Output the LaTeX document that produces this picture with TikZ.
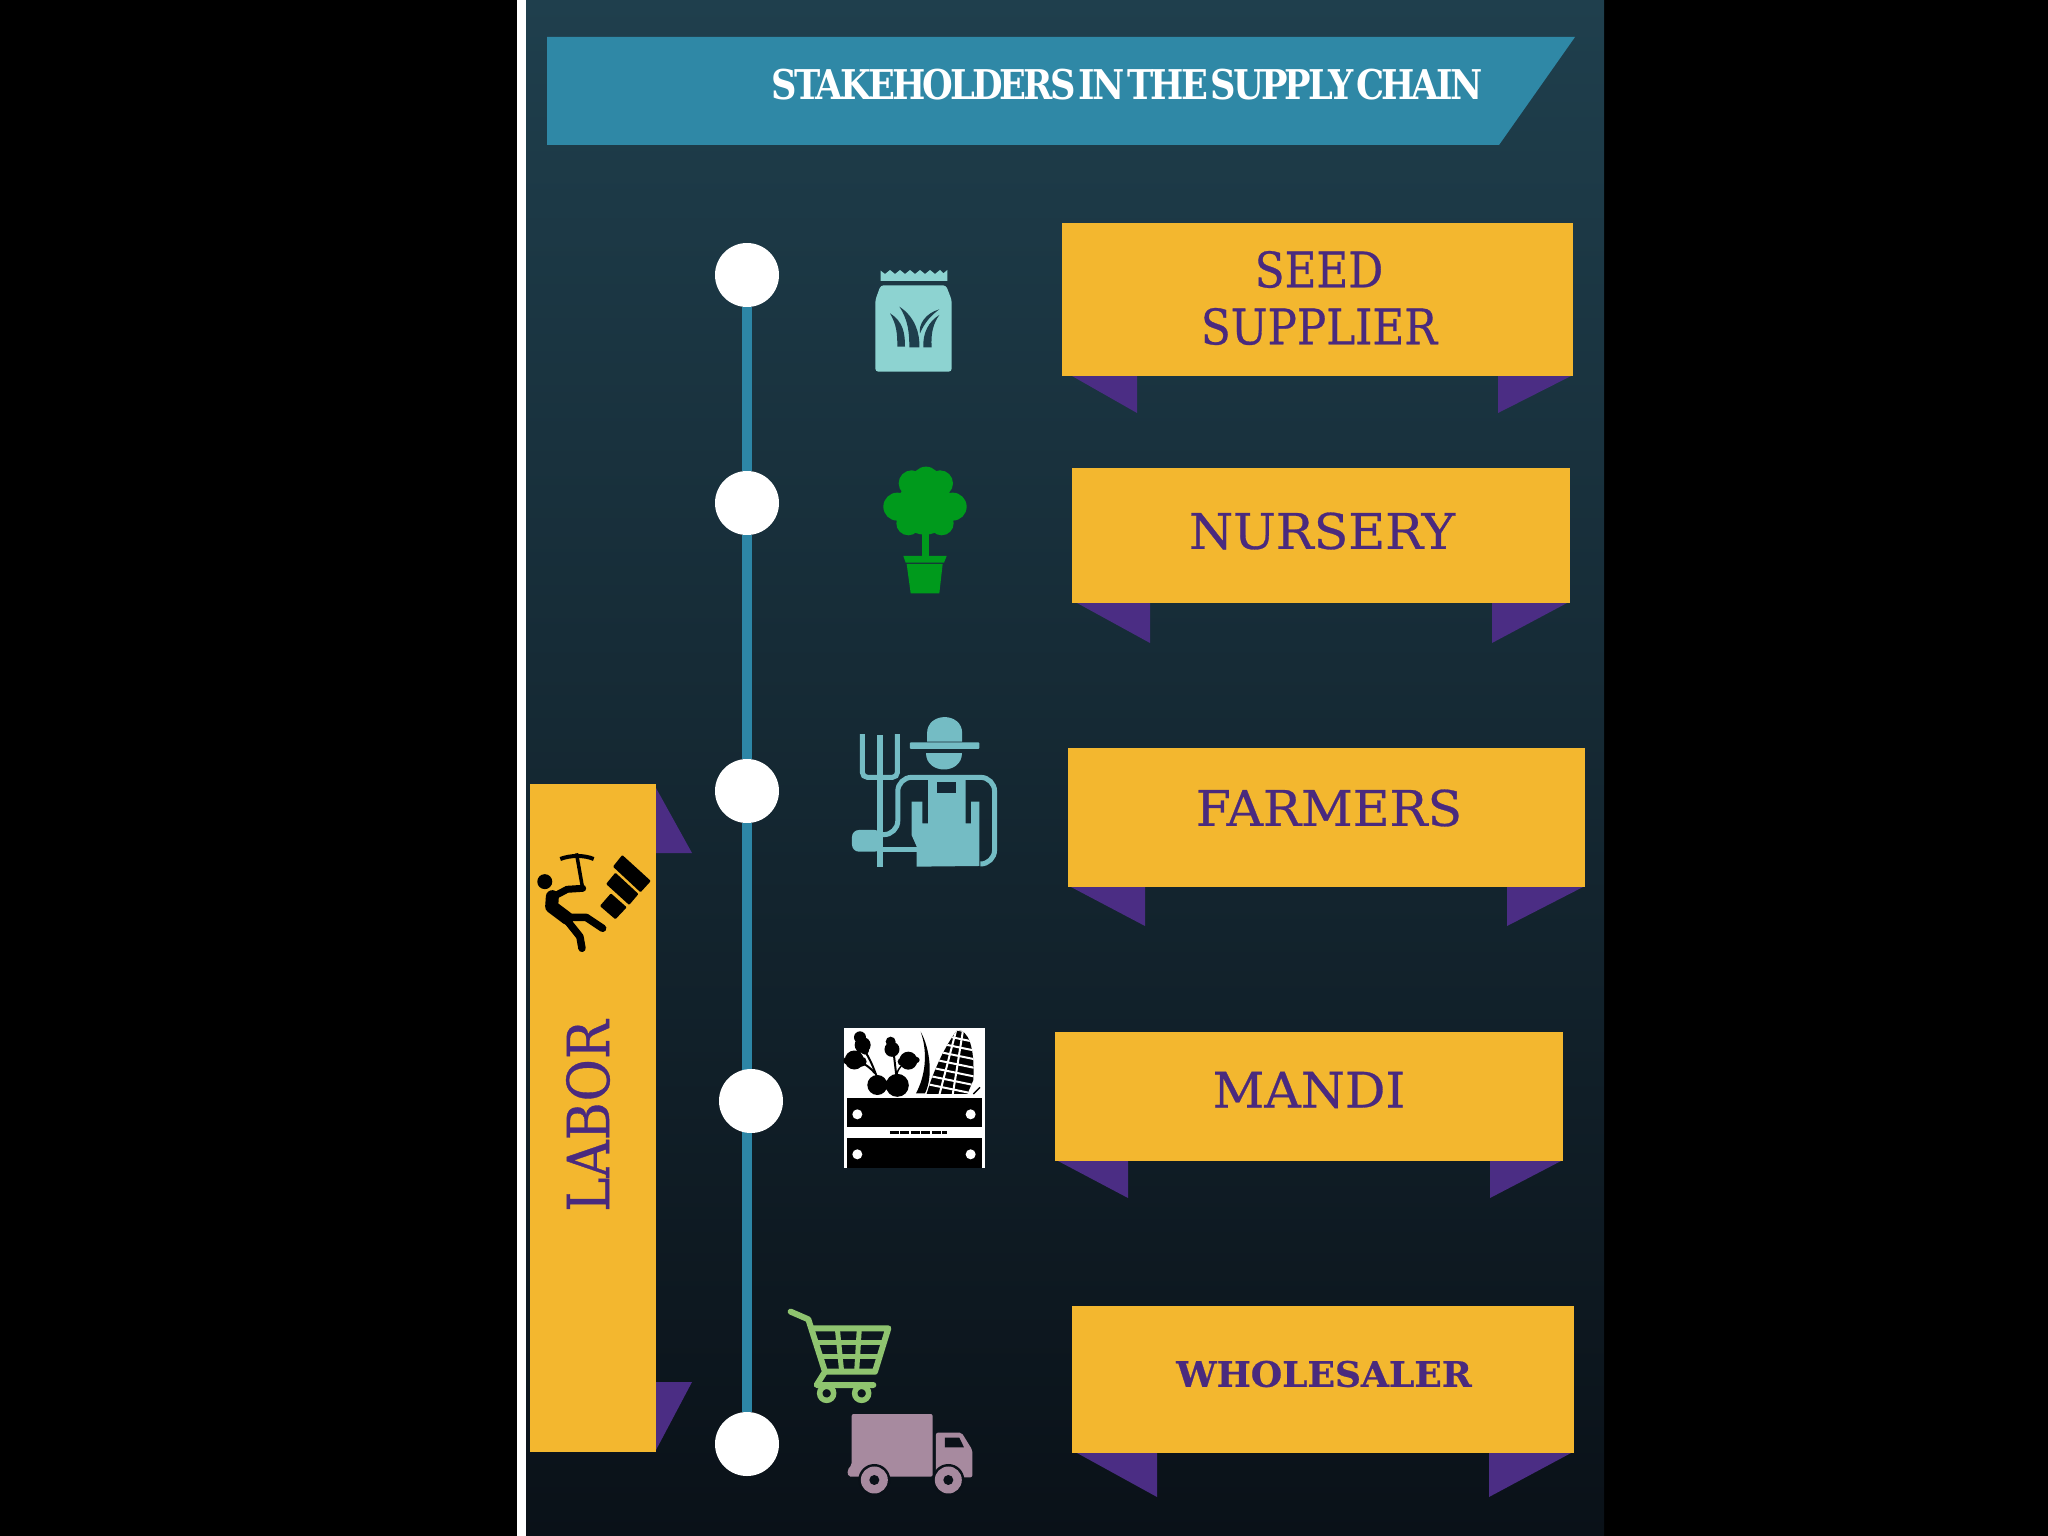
\documentclass[tikz,border=0pt]{standalone}
\usepackage{fontspec}
\usetikzlibrary{calc}
\newfontfamily\slabfont[FakeStretch=1.03,FakeBold=0.6]{DejaVu Serif}
\newfontfamily\slabnarrow[FakeStretch=0.89,FakeBold=0.6]{DejaVu Serif}
\newfontfamily\titlefont[FakeStretch=0.86,LetterSpace=-7,WordSpace=0.3]{DejaVu Serif}
\definecolor{ribbonyellow}{HTML}{F3B72F}
\definecolor{tailpurple}{HTML}{4B2D84}
\definecolor{textpurple}{HTML}{4A2A7E}
\definecolor{bannerblue}{HTML}{2F88A6}
\definecolor{linkblue}{HTML}{2D86A6}
\definecolor{bagteal}{HTML}{8DD3D1}
\definecolor{farmerteal}{HTML}{74BCC4}
\definecolor{treegreen}{HTML}{009A1C}
\definecolor{cartgreen}{HTML}{8FC46F}
\definecolor{truckmauve}{HTML}{A78A9F}
\definecolor{paneltop}{HTML}{1F3F4D}
\definecolor{panelmid}{HTML}{142836}
\definecolor{panelbot}{HTML}{0A1118}
\tikzset{
	stop/.style={circle,fill=white,inner sep=0pt,minimum size=64pt},
	ribbontext/.style={text=textpurple,align=center,inner sep=0pt,font=\slabfont\fontsize{49}{57}\selectfont},
}
\begin{document}
\begin{tikzpicture}[x=1pt,y=-1pt]
	\useasboundingbox (0,0) rectangle (2048,1536);
	\fill[black] (0,0) rectangle (2048,1536);
	\fill[white] (517,0) rectangle (526,1536);
	\shade[top color=paneltop,middle color=panelmid,bottom color=panelbot] (526,0) rectangle (1604,1536);
	
	%TITLE BANNER
	\fill[bannerblue] (547,37) -- (1575,37) -- (1499,145) -- (547,145) -- cycle;
	\node[text=white,inner sep=0pt,font=\titlefont\bfseries\fontsize{41}{48}\selectfont] (title) at (1127,85) {STAKEHOLDERS IN THE SUPPLY CHAIN};
	
	%RIBBONS
	\foreach \xa/\ya/\xb/\yb/\la/\lb/\ra/\rb/\ty in {
		1062/223/1573/376/1072/1137/1498/1571/413,
		1072/468/1570/603/1077/1150/1492/1567/643,
		1068/748/1585/887/1071/1145/1507/1583/926,
		1055/1032/1563/1161/1058/1128/1490/1561/1198,
		1072/1306/1574/1453/1077/1157/1489/1571/1497}{
		\fill[tailpurple] (\la,\yb) -- (\lb,\yb) -- (\lb,\ty) -- cycle;
		\fill[tailpurple] (\ra,\yb) -- (\rb,\yb) -- (\ra,\ty) -- cycle;
		\fill[ribbonyellow] (\xa,\ya) rectangle (\xb,\yb);
	}
	\node[ribbontext,font=\slabnarrow\fontsize{49}{57}\selectfont] (seed) at (1319,298) {SEED\\SUPPLIER};
	\node[ribbontext] (nursery) at (1322,531) {NURSERY};
	\node[ribbontext] (farmers) at (1329,808) {FARMERS};
	\node[ribbontext] (mandi) at (1309,1090) {MANDI};
	\node[ribbontext,font=\slabfont\bfseries\fontsize{35}{42}\selectfont] (wholesaler) at (1324,1374) {WHOLESALER};
	
	%LABOR RIBBON
	\fill[tailpurple] (656,788) -- (692,853) -- (656,853) -- cycle;
	\fill[tailpurple] (656,1382) -- (692,1382) -- (656,1450) -- cycle;
	\fill[ribbonyellow] (530,784) rectangle (656,1452);
	\node[ribbontext,rotate=90,font=\slabnarrow\fontsize{58}{64}\selectfont] (labor) at (588,1116) {LABOR};
	
	%STOPS
	\node[stop] (s1) at (747,275) {};
	\node[stop] (s2) at (747,503) {};
	\node[stop] (s3) at (747,791) {};
	\node[stop] (s5) at (747,1444) {};
	\draw[linkblue,line width=10pt] (s1) -- (s2);
	\draw[linkblue,line width=10pt] (s2) -- (s3);
	\draw[linkblue,line width=10pt] (s3) -- (s5);
	\node[stop] (s4) at (751,1101) {};
	
	%SEED BAG
	\begin{scope}[shift={(840,250)},x=0.3333pt,y=-0.3333pt]
		\fill[bagteal] (122,93) -- (122,62) -- (135,72) -- (150,60) -- (165,72) -- (180,60) -- (195,72) -- (210,60) -- (225,72) -- (240,60) -- (255,72) -- (270,60) -- (285,72) -- (300,60) -- (310,70) -- (322,60) -- (322,93) -- cycle;
		\fill[bagteal,rounded corners=3pt] (122,106) -- (318,106) -- (335,150) -- (335,365) -- (106,365) -- (106,150) -- cycle;
		\fill[paneltop] (150,190) .. controls (190,215) and (195,250) .. (195,290) -- (172,290) .. controls (172,250) and (170,225) .. (150,190) -- cycle;
		\fill[paneltop] (178,170) .. controls (225,200) and (240,250) .. (238,292) -- (208,292) .. controls (208,250) and (205,210) .. (178,170) -- cycle;
		\fill[paneltop] (298,178) .. controls (255,190) and (235,225) .. (240,250) .. controls (255,215) and (275,195) .. (298,178) -- cycle;
		\fill[paneltop] (298,195) .. controls (265,215) and (248,250) .. (250,292) -- (275,292) .. controls (272,250) and (280,220) .. (298,195) -- cycle;
	\end{scope}
	
	%TREE
	\begin{scope}[shift={(840,250)},x=0.3333pt,y=-0.3333pt]
		\fill[treegreen] (258,692) circle (14pt) (215,700) circle (13pt) (300,700) circle (13pt) (172,770) circle (14pt) (338,770) circle (14pt) (205,820) circle (12pt) (305,820) circle (12pt) (255,770) circle (28pt);
		\fill[treegreen] (245,830) rectangle (266,925);
		\fill[treegreen] (190,918) -- (320,918) -- (312,938) -- (197,938) -- cycle;
		\fill[treegreen] (200,942) -- (308,942) -- (298,1030) -- (212,1030) -- cycle;
	\end{scope}
	
	%FARMER
	\begin{scope}[shift={(500,680)},x=0.3444pt,y=-0.3333pt]
		\fill[farmerteal] (1240,185) -- (1240,160) .. controls (1240,95) and (1342,95) .. (1342,160) -- (1342,185) -- cycle;
		\fill[farmerteal,rounded corners=1pt] (1190,187) rectangle (1392,207);
		\fill[farmerteal] (1238,220) -- (1342,220) .. controls (1342,285) and (1238,285) .. (1238,220) -- cycle;
		\fill[farmerteal] (1195,365) -- (1226,365) -- (1226,430) -- (1243,430) -- (1243,300) -- (1352,300) -- (1352,430) -- (1368,430) -- (1368,365) -- (1392,365) -- (1392,558) -- (1210,560) -- (1210,500) -- (1195,465) -- cycle;
		\fill[panelmid] (1270,305) rectangle (1325,340);
		\draw[farmerteal,line width=5pt,rounded corners=14pt] (1112,464) -- (1155,464) -- (1155,292) -- (1436,292) -- (1436,552) -- (1395,552);
		\draw[farmerteal,line width=5pt] (1100,508) -- (1210,508);
		\fill[farmerteal,rounded corners=7pt] (1022,450) rectangle (1108,515);
		\draw[farmerteal,line width=6pt] (1103,165) -- (1103,560);
		\draw[farmerteal,line width=5pt,rounded corners=5pt] (1052,162) -- (1052,292) -- (1154,292) -- (1154,162);
	\end{scope}
	
	%WORKER AND BOXES
	\begin{scope}[shift={(500,680)},x=0.3444pt,y=-0.3333pt]
		\fill[black] (130,605) circle (7.5pt);
		\draw[black,line width=4pt] (175,537) .. controls (205,525) and (245,525) .. (272,537);
		\draw[black,line width=3.5pt] (222,520) -- (240,625);
		\draw[black,line width=7pt,line cap=round,line join=round] (240,625) -- (195,628) -- (155,650);
		\draw[black,line width=13pt,line cap=round,line join=round] (152,650) -- (150,680) -- (195,715);
		\draw[black,line width=7.5pt,line cap=round,line join=round] (195,712) -- (250,712) -- (298,745);
		\draw[black,line width=7.5pt,line cap=round,line join=round] (195,722) -- (232,770) -- (238,805);
		\fill[black,rounded corners=1pt] (355,525) -- (438,603) -- (408,637) -- (328,560) -- cycle;
		\fill[black,rounded corners=1pt] (335,578) -- (402,642) -- (375,675) -- (308,612) -- cycle;
		\fill[black,rounded corners=1pt] (290,678) -- (322,640) -- (368,682) -- (335,718) -- cycle;
	\end{scope}
	
	%CRATE
	\begin{scope}[shift={(760,980)},x=0.3333pt,y=-0.3333pt]
		\fill[white] (252,144) rectangle (674,565);
		\fill[black] (260,355) rectangle (665,440);
		\fill[black] (260,475) rectangle (665,563);
		\foreach \cx/\cy in {292/403,632/403,292/523,632/523}{
			\fill[white] (\cx,\cy) circle (5pt);
		}
		\draw[black,line width=2.5pt,dash pattern=on 9pt off 1.5pt] (390,458) -- (562,458);
		%vegetables
		\fill[black] (352,315) circle (10pt) (412,316) circle (11.5pt);
		\draw[black,line width=2pt] (352,295) .. controls (340,260) and (325,225) .. (305,200);
		\draw[black,line width=2pt] (410,295) -- (400,210);
		\draw[black,line width=1.5pt] (410,285) .. controls (415,260) and (430,250) .. (445,245);
		\draw[black,line width=2pt] (345,280) .. controls (325,255) and (300,245) .. (285,240);
		\fill[black] (300,172) circle (6pt) (308,195) circle (8pt) (315,212) circle (4pt) (283,240) circle (9.5pt) (262,242) circle (4pt) (305,245) circle (5pt) (392,185) circle (5pt) (396,208) circle (7.5pt) (445,242) circle (9pt) (470,240) circle (3pt) (425,245) circle (4pt);
		\fill[black] (482,155) .. controls (510,205) and (520,290) .. (495,340) -- (468,340) .. controls (495,290) and (505,220) .. (482,155) -- cycle;
		\begin{scope}
			\clip (592,150) .. controls (625,150) and (645,200) .. (640,300) -- (622,342) -- (500,342) .. controls (520,270) and (560,190) .. (592,150) -- cycle;
			\fill[black] (480,140) rectangle (660,345);
			\foreach \k in {0,1,...,7}{
				\draw[white,line width=2pt] (490,{310-\k*26}) -- (660,{345-\k*26});
			}
			\draw[white,line width=2pt] (538,345) -- (590,145);
			\draw[white,line width=2pt] (578,345) -- (610,145);
		\end{scope}
		\draw[black,line width=1.5pt] (640,342) -- (660,322);
	\end{scope}
	
	%CART
	\begin{scope}[shift={(760,1290)},x=0.3333pt,y=-0.3333pt]
		\draw[cartgreen,line width=6pt,line join=round] (150,115) -- (385,115) -- (345,245) -- (195,245);
		\draw[cartgreen,line width=6pt,line cap=round,line join=round] (92,65) -- (145,88) -- (195,245) -- (170,285) -- (340,285);
		\draw[cartgreen,line width=5pt] (163,157) -- (372,157);
		\draw[cartgreen,line width=5pt] (177,200) -- (358,200);
		\draw[cartgreen,line width=5pt] (232,115) -- (245,245);
		\draw[cartgreen,line width=5pt] (298,115) -- (290,245);
		\draw[cartgreen,line width=5.5pt] (200,310) circle (7pt) (305,310) circle (7pt);
	\end{scope}
	
	%TRUCK
	\begin{scope}[shift={(760,1290)},x=0.3333pt,y=-0.3333pt]
		\fill[truckmauve,rounded corners=2pt] (275,372) -- (518,372) -- (518,560) -- (265,560) -- (262,540) -- (275,525) -- cycle;
		\fill[truckmauve,rounded corners=2pt] (528,428) -- (605,428) -- (637,480) -- (637,562) -- (528,562) -- cycle;
		\fill[panelbot] (555,443) -- (598,443) -- (612,472) -- (555,472) -- cycle;
		\foreach \wx in {343,565}{
			\fill[panelbot] (\wx,570) circle (16pt);
			\fill[truckmauve] (\wx,570) circle (13.5pt);
			\fill[panelbot] (\wx,570) circle (5pt);
		}
	\end{scope}
\end{tikzpicture}
\end{document}
